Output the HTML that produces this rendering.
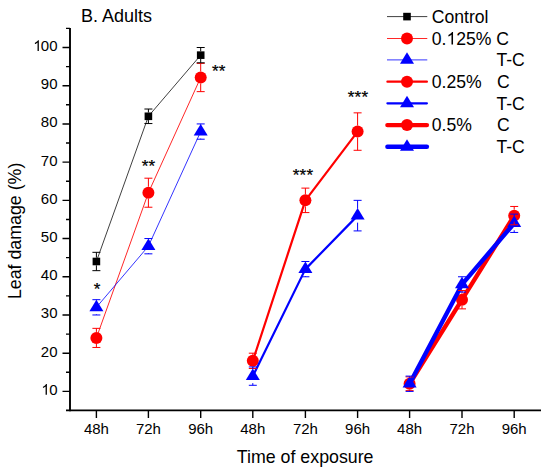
<!DOCTYPE html>
<html><head><meta charset="utf-8"><style>
html,body{margin:0;padding:0;background:#fff;width:550px;height:472px;overflow:hidden}
svg{display:block}
</style></head><body>
<svg width="550" height="472" viewBox="0 0 550 472">
<style>
text{font-family:"Liberation Sans",sans-serif;fill:#000}
.t{font-size:15px}
.b{font-size:18px}
.s{font-size:17px;stroke:#000;stroke-width:0.25px;letter-spacing:0.3px}
.l{font-size:17.6px}
</style>
<rect width="550" height="472" fill="#fff"/>
<path d="M70 27.9V411.3" stroke="#000" stroke-width="1.9" fill="none"/>
<path d="M66 410.45H541" stroke="#000" stroke-width="1.7" fill="none"/>
<path d="M62.5 391.40H70M62.5 353.19H70M62.5 314.98H70M62.5 276.77H70M62.5 238.56H70M62.5 200.35H70M62.5 162.14H70M62.5 123.93H70M62.5 85.72H70M62.5 47.51H70M66 372.29H70M66 334.08H70M66 295.88H70M66 257.66H70M66 219.45H70M66 181.24H70M66 143.03H70M66 104.82H70M66 66.61H70M66 28.40H70M96.40 410.5V418M148.40 410.5V418M200.70 410.5V418M252.80 410.5V418M305.40 410.5V418M357.60 410.5V418M409.60 410.5V418M462.00 410.5V418M514.20 410.5V418" stroke="#000" stroke-width="1.4" fill="none"/>
<text x="57.5" y="394.80" text-anchor="end" class="t">0</text>
<path transform="translate(41.32 394.80) scale(0.00732 -0.00732)" d="M763 0H583V1147Q518 1085 412.5 1023Q307 961 223 930V1104Q374 1175 487 1276Q600 1377 647 1466H763Z" fill="#000"/>
<text x="57.5" y="356.59" text-anchor="end" class="t">20</text>
<text x="57.5" y="318.38" text-anchor="end" class="t">30</text>
<text x="57.5" y="280.17" text-anchor="end" class="t">40</text>
<text x="57.5" y="241.96" text-anchor="end" class="t">50</text>
<text x="57.5" y="203.75" text-anchor="end" class="t">60</text>
<text x="57.5" y="165.54" text-anchor="end" class="t">70</text>
<text x="57.5" y="127.33" text-anchor="end" class="t">80</text>
<text x="57.5" y="89.12" text-anchor="end" class="t">90</text>
<text x="57.5" y="50.91" text-anchor="end" class="t">00</text>
<path transform="translate(33.27 50.91) scale(0.00732 -0.00732)" d="M763 0H583V1147Q518 1085 412.5 1023Q307 961 223 930V1104Q374 1175 487 1276Q600 1377 647 1466H763Z" fill="#000"/>
<text x="96.40" y="434" text-anchor="middle" class="t">48h</text>
<text x="148.40" y="434" text-anchor="middle" class="t">72h</text>
<text x="200.70" y="434" text-anchor="middle" class="t">96h</text>
<text x="252.80" y="434" text-anchor="middle" class="t">48h</text>
<text x="305.40" y="434" text-anchor="middle" class="t">72h</text>
<text x="357.60" y="434" text-anchor="middle" class="t">96h</text>
<text x="409.60" y="434" text-anchor="middle" class="t">48h</text>
<text x="462.00" y="434" text-anchor="middle" class="t">72h</text>
<text x="514.20" y="434" text-anchor="middle" class="t">96h</text>
<path d="M96.40 337.91 L148.40 192.71 L200.70 77.50" fill="none" stroke="#ff0000" stroke-width="0.85" stroke-linejoin="round" stroke-linecap="round"/>
<circle cx="96.40" cy="337.91" r="6.0" fill="#ff0000"/>
<circle cx="148.40" cy="192.71" r="6.0" fill="#ff0000"/>
<circle cx="200.70" cy="77.50" r="6.0" fill="#ff0000"/>
<path d="M96.40 261.49 L148.40 116.29 L200.70 55.15" fill="none" stroke="#000000" stroke-width="0.75" stroke-linejoin="round" stroke-linecap="round"/>
<rect x="92.60" y="257.69" width="7.6" height="7.6" fill="#000000"/>
<rect x="144.60" y="112.49" width="7.6" height="7.6" fill="#000000"/>
<rect x="196.90" y="51.35" width="7.6" height="7.6" fill="#000000"/>
<path d="M96.40 307.34 L148.40 246.20 L200.70 131.57" fill="none" stroke="#0000ff" stroke-width="0.8" stroke-linejoin="round" stroke-linecap="round"/>
<path d="M96.40 299.67L103.40 311.17L89.40 311.17Z" fill="#0000ff"/>
<path d="M148.40 238.54L155.40 250.04L141.40 250.04Z" fill="#0000ff"/>
<path d="M200.70 123.91L207.70 135.41L193.70 135.41Z" fill="#0000ff"/>
<path d="M252.80 360.83 L305.40 200.35 L357.60 131.57" fill="none" stroke="#ff0000" stroke-width="2.2" stroke-linejoin="round" stroke-linecap="round"/>
<circle cx="252.80" cy="360.83" r="6.0" fill="#ff0000"/>
<circle cx="305.40" cy="200.35" r="6.0" fill="#ff0000"/>
<circle cx="357.60" cy="131.57" r="6.0" fill="#ff0000"/>
<path d="M252.80 376.12 L305.40 269.13 L357.60 215.63" fill="none" stroke="#0000ff" stroke-width="2.2" stroke-linejoin="round" stroke-linecap="round"/>
<path d="M252.80 368.45L259.80 379.95L245.80 379.95Z" fill="#0000ff"/>
<path d="M305.40 261.46L312.40 272.96L298.40 272.96Z" fill="#0000ff"/>
<path d="M357.60 207.97L364.60 219.47L350.60 219.47Z" fill="#0000ff"/>
<path d="M409.60 383.76 L462.00 299.70 L514.20 215.63" fill="none" stroke="#ff0000" stroke-width="4.4" stroke-linejoin="round" stroke-linecap="round"/>
<circle cx="409.60" cy="383.76" r="6.0" fill="#ff0000"/>
<circle cx="462.00" cy="299.70" r="6.0" fill="#ff0000"/>
<circle cx="514.20" cy="215.63" r="6.0" fill="#ff0000"/>
<path d="M409.60 383.76 L462.00 284.41 L514.20 223.28" fill="none" stroke="#0000ff" stroke-width="4.4" stroke-linejoin="round" stroke-linecap="round"/>
<path d="M409.60 376.09L416.60 387.59L402.60 387.59Z" fill="#0000ff"/>
<path d="M462.00 276.75L469.00 288.25L455.00 288.25Z" fill="#0000ff"/>
<path d="M514.20 215.61L521.20 227.11L507.20 227.11Z" fill="#0000ff"/>
<path d="M92.40 328.35H100.40M92.40 347.46H100.40M96.40 328.35V331.91M96.40 343.91V347.46" stroke="#ff0000" stroke-width="1.0" fill="none"/>
<path d="M144.40 178.19H152.40M144.40 207.23H152.40M148.40 178.19V186.71M148.40 198.71V207.23" stroke="#ff0000" stroke-width="1.0" fill="none"/>
<path d="M196.70 63.37H204.70M196.70 91.64H204.70M200.70 63.37V71.50M200.70 83.50V91.64" stroke="#ff0000" stroke-width="1.0" fill="none"/>
<path d="M92.40 252.32H100.40M92.40 270.66H100.40M96.40 252.32V257.69M96.40 265.29V270.66" stroke="#000000" stroke-width="1.0" fill="none"/>
<path d="M144.40 109.03H152.40M144.40 123.55H152.40M148.40 109.03V112.49M148.40 120.09V123.55" stroke="#000000" stroke-width="1.0" fill="none"/>
<path d="M196.70 47.51H204.70M196.70 62.79H204.70M200.70 47.51V51.35M200.70 58.95V62.79" stroke="#000000" stroke-width="1.0" fill="none"/>
<path d="M92.40 299.70H100.40M92.40 314.98H100.40M96.40 299.70V300.34M96.40 314.34V314.98" stroke="#0000ff" stroke-width="1.0" fill="none"/>
<path d="M144.40 238.56H152.40M144.40 253.84H152.40M148.40 238.56V239.20M148.40 253.20V253.84" stroke="#0000ff" stroke-width="1.0" fill="none"/>
<path d="M196.70 123.93H204.70M196.70 139.21H204.70M200.70 123.93V124.57M200.70 138.57V139.21" stroke="#0000ff" stroke-width="1.0" fill="none"/>
<path d="M248.80 353.19H256.80M248.80 368.47H256.80M252.80 353.19V354.83M252.80 366.83V368.47" stroke="#ff0000" stroke-width="1.0" fill="none"/>
<path d="M301.40 188.12H309.40M301.40 212.58H309.40M305.40 188.12V194.35M305.40 206.35V212.58" stroke="#ff0000" stroke-width="1.0" fill="none"/>
<path d="M353.60 112.85H361.60M353.60 150.29H361.60M357.60 112.85V125.57M357.60 137.57V150.29" stroke="#ff0000" stroke-width="1.0" fill="none"/>
<path d="M248.80 366.95H256.80M248.80 385.29H256.80M252.80 366.95V369.12M252.80 383.12V385.29" stroke="#0000ff" stroke-width="1.0" fill="none"/>
<path d="M301.40 261.49H309.40M301.40 276.77H309.40M305.40 261.49V262.13M305.40 276.13V276.77" stroke="#0000ff" stroke-width="1.0" fill="none"/>
<path d="M353.60 200.35H361.60M353.60 230.92H361.60M357.60 200.35V208.63M357.60 222.63V230.92" stroke="#0000ff" stroke-width="1.0" fill="none"/>
<path d="M405.60 376.88H413.60M405.60 390.64H413.60M409.60 376.88V377.76M409.60 389.76V390.64" stroke="#ff0000" stroke-width="1.0" fill="none"/>
<path d="M458.00 290.53H466.00M458.00 308.87H466.00M462.00 290.53V293.70M462.00 305.70V308.87" stroke="#ff0000" stroke-width="1.0" fill="none"/>
<path d="M510.20 206.46H518.20M510.20 224.80H518.20M514.20 206.46V209.63M514.20 221.63V224.80" stroke="#ff0000" stroke-width="1.0" fill="none"/>
<path d="M405.60 376.12H413.60M405.60 391.40H413.60M409.60 376.12V376.76M409.60 390.76V391.40" stroke="#0000ff" stroke-width="1.0" fill="none"/>
<path d="M458.00 276.77H466.00M458.00 292.05H466.00M462.00 276.77V277.41M462.00 291.41V292.05" stroke="#0000ff" stroke-width="1.0" fill="none"/>
<path d="M510.20 214.11H518.20M510.20 232.45H518.20M514.20 214.11V216.28M514.20 230.28V232.45" stroke="#0000ff" stroke-width="1.0" fill="none"/>
<text x="81" y="22.2" class="b">B. Adults</text>
<text x="236.8" y="462.6" class="b" style="font-size:17.8px">Time of exposure</text>
<text transform="translate(20.7 299.1) rotate(-90)" class="b" style="font-size:17.8px">Leaf damage (%)</text>
<text x="97.3" y="294.9" text-anchor="middle" class="s">*</text>
<text x="148.6" y="172.2" text-anchor="middle" class="s">**</text>
<text x="218.8" y="77.0" text-anchor="middle" class="s">**</text>
<text x="303" y="181.4" text-anchor="middle" class="s">***</text>
<text x="358" y="103.4" text-anchor="middle" class="s">***</text>
<path d="M387.4 16.6H426.9" stroke="#000000" stroke-width="0.75" stroke-linecap="round"/>
<rect x="403.20" y="12.80" width="7.6" height="7.6" fill="#000000"/>
<text x="431.8" y="22.6" class="l">Control</text>
<path d="M387.4 38.5H426.9" stroke="#ff0000" stroke-width="0.85" stroke-linecap="round"/>
<circle cx="407.00" cy="38.50" r="6.0" fill="#ff0000"/>
<text x="431.8" y="44.5" class="l">0.</text>
<path transform="translate(446.48 44.50) scale(0.00859 -0.00859)" d="M763 0H583V1147Q518 1085 412.5 1023Q307 961 223 930V1104Q374 1175 487 1276Q600 1377 647 1466H763Z" fill="#000"/>
<text x="456.27" y="44.5" class="l">25% C</text>
<path d="M387.4 59.9H426.9" stroke="#0000ff" stroke-width="0.8" stroke-linecap="round"/>
<path d="M407.00 52.23L414.00 63.73L400.00 63.73Z" fill="#0000ff"/>
<path d="M387.4 81.7H426.9" stroke="#ff0000" stroke-width="2.2" stroke-linecap="round"/>
<circle cx="407.00" cy="81.70" r="6.0" fill="#ff0000"/>
<text x="431.8" y="87.7" class="l">0.25%</text>
<path d="M387.4 103.3H426.9" stroke="#0000ff" stroke-width="2.2" stroke-linecap="round"/>
<path d="M407.00 95.63L414.00 107.13L400.00 107.13Z" fill="#0000ff"/>
<path d="M387.4 125.1H426.9" stroke="#ff0000" stroke-width="4.4" stroke-linecap="round"/>
<circle cx="407.00" cy="125.10" r="6.0" fill="#ff0000"/>
<text x="431.8" y="131.1" class="l">0.5%</text>
<path d="M387.4 146.8H426.9" stroke="#0000ff" stroke-width="4.4" stroke-linecap="round"/>
<path d="M407.00 139.13L414.00 150.63L400.00 150.63Z" fill="#0000ff"/>
<text x="497" y="88.0" class="l">C</text>
<text x="497" y="131.4" class="l">C</text>
<text x="496.4" y="66.2" class="l">T-C</text>
<text x="496.4" y="109.6" class="l">T-C</text>
<text x="496.4" y="153.1" class="l">T-C</text>
</svg>
</body></html>
